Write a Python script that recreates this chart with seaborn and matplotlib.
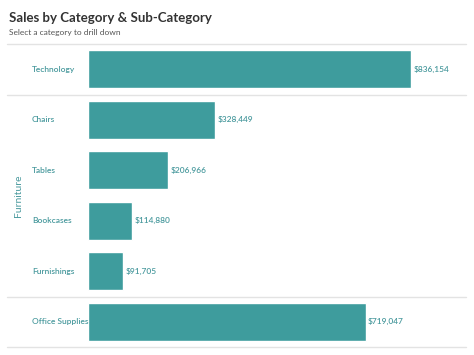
import matplotlib
matplotlib.use("Agg")
import matplotlib.pyplot as plt
import seaborn as sns
import pandas as pd

# data
sub_categories = ["Technology", "Chairs", "Tables", "Bookcases", "Furnishings", "Office Supplies"]
sales = [836154, 328449, 206966, 114880, 91705, 719047]
group_label = "Furniture"

BAR = "#3e9c9d"
TEXT = "#4a9a9e"
LINE = "#e3e3e3"

df = pd.DataFrame({"sub": sub_categories, "sales": sales})

sns.set_theme(style="white")
plt.rcParams["font.family"] = ["Lato", "DejaVu Sans"]

fig = plt.figure(figsize=(4.74, 3.55), dpi=100)
W, H = 474, 355
ax = fig.add_axes([88 / W, 1 - 347 / H, 378 / W, (347 - 44) / H])

sns.barplot(data=df, y="sub", x="sales", orient="h", color=BAR, width=0.76,
            saturation=1, ax=ax)
ax.set_xlim(0, 978500)
ax.set_ylim(5.5, -0.5)
ax.set_xlabel("")
ax.set_ylabel("")
ax.set_xticks([])
ax.set_yticks([])
for s in ax.spines.values():
    s.set_visible(False)

for i, (name, v) in enumerate(zip(sub_categories, sales)):
    ax.text(v + 6000, i, f"${v:,.0f}", va="center", ha="left", fontsize=6,
            color=TEXT, fontweight="semibold")
    ax.text(-0.148, i, name, transform=ax.get_yaxis_transform(), va="center", ha="left",
            fontsize=6, color=TEXT, fontweight="semibold")

# separators between categories
for y in [-0.5, 0.5, 4.5, 5.5]:
    ax.axhline(y, xmin=-81 / 378, xmax=1.0, color=LINE, lw=1, clip_on=False)

ax.text(-0.185, 2.5, group_label, transform=ax.get_yaxis_transform(), rotation=90,
        va="center", ha="center", fontsize=7.5, color=TEXT)

fig.text(9 / W, 1 - 18 / H, "Sales by Category & Sub-Category", fontsize=9.5,
         fontweight="bold", color="#333333", va="center", ha="left")
fig.text(9 / W, 1 - 33 / H, "Select a category to drill down", fontsize=6,
         color="#555555", va="center", ha="left")

fig.savefig("out.png", dpi=100)
